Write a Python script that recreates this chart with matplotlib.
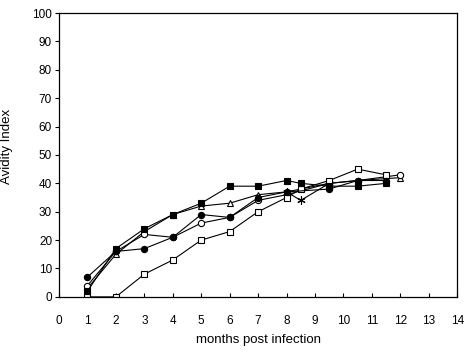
import numpy as np
import matplotlib.pyplot as plt

plt.rcParams['font.family'] = ['Liberation Sans', 'DejaVu Sans']

# filled squares
sq_f_x = [1, 2, 3, 4, 5, 6, 7, 8, 8.5, 9.5, 10.5, 11.5]
sq_f_y = [2, 17, 24, 29, 33, 39, 39, 41, 40, 39, 39, 40]
# filled circles
ci_f_x = [1, 2, 3, 4, 5, 6, 7, 8, 9.5, 10.5, 11.5]
ci_f_y = [7, 16, 17, 21, 29, 28, 35, 37, 38, 41, 41]
# open circles
ci_o_x = [1, 2, 3, 4, 5, 6, 7, 8, 9.5, 10.5, 12]
ci_o_y = [4, 16, 22, 21, 26, 28, 34, 36, 40, 41, 43]
# open triangles
tr_o_x = [1, 2, 3, 4, 5, 6, 7, 8, 9.5, 10.5, 12]
tr_o_y = [3, 15, 23, 29, 32, 33, 36, 37, 40, 41, 42]
# star
st_x = [8, 8.5, 9.5]
st_y = [37, 34, 40]
# open squares
sq_o_x = [1, 2, 3, 4, 5, 6, 7, 8, 8.5, 9.5, 10.5, 11.5]
sq_o_y = [0, 0, 8, 13, 20, 23, 30, 35, 38, 41, 45, 43]

fig = plt.figure(figsize=(4.74, 3.53), dpi=100)
ax = fig.add_axes([0.1245, 0.159, 0.84, 0.804])

lw = 0.8
ms = 4.5
ax.plot(st_x, st_y, color='black', lw=lw, marker=(6, 2, 0), ms=6, mew=0.8)
ax.plot(tr_o_x, tr_o_y, color='black', lw=lw, marker='^', ms=ms, mfc='white', mew=0.8)
ax.plot(ci_o_x, ci_o_y, color='black', lw=lw, marker='o', ms=ms, mfc='white', mew=0.8)
ax.plot(sq_o_x, sq_o_y, color='black', lw=lw, marker='s', ms=ms, mfc='white', mew=0.8)
ax.plot(ci_f_x, ci_f_y, color='black', lw=lw, marker='o', ms=ms, mew=0.8)
ax.plot(sq_f_x, sq_f_y, color='black', lw=lw, marker='s', ms=ms, mew=0.8)

ax.set_xlim(0, 14)
ax.set_ylim(0, 100)
ax.set_xticks(np.arange(0, 15, 1))
ax.set_yticks(np.arange(0, 101, 10))
ax.tick_params(axis='x', direction='in', length=3, width=0.8, labelsize=8.5, pad=13)
ax.tick_params(axis='y', direction='out', length=3, width=0.8, labelsize=8.5, pad=2)
for s in ax.spines.values():
    s.set_linewidth(0.9)

ax.set_xlabel('months post infection', fontsize=9.5, labelpad=5)
ax.set_ylabel('Avidity Index', fontsize=9.5)
ax.yaxis.set_label_coords(-0.115, 0.53)

fig.savefig('out.png', dpi=100)
